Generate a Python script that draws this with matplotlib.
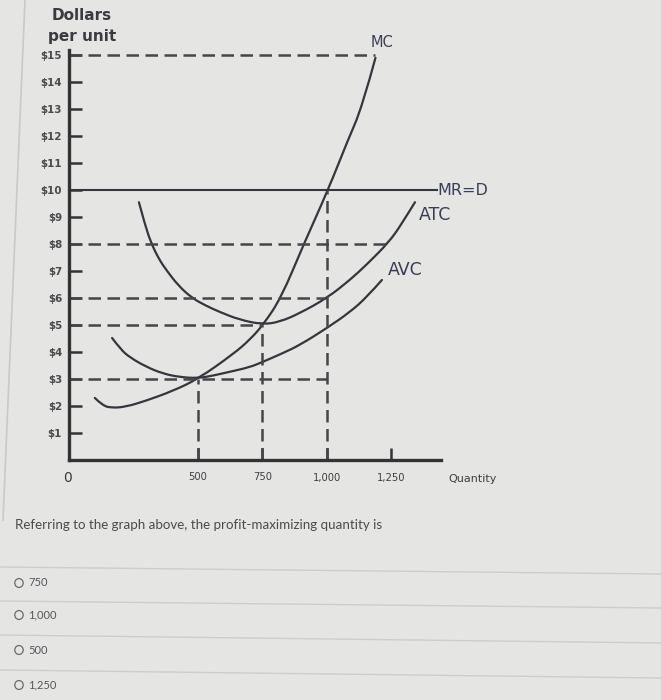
import matplotlib
matplotlib.use("Agg")
import matplotlib.pyplot as plt
from matplotlib.lines import Line2D
from matplotlib.patches import Circle, PathPatch
from matplotlib.path import Path

# ---------------- data ----------------
price_ticks = [1, 2, 3, 4, 5, 6, 7, 8, 9, 10, 11, 12, 13, 14, 15]
price_labels = ["$1", "$2", "$3", "$4", "$5", "$6", "$7", "$8", "$9", "$10",
                "$11", "$12", "$13", "$14", "$15"]
quantity_ticks = [500, 750, 1000, 1250]
quantity_labels = ["500", "750", "1,000", "1,250"]

mr_price = 10

mc_q = [100, 130, 165, 220, 300, 400, 500, 640, 700, 752, 822, 910, 1004, 1081, 1136, 1188]
mc_p = [2.3, 2.02, 1.93, 1.97, 2.2, 2.55, 3.0, 3.95, 4.45, 5.0, 6.0, 8.0, 10.0, 11.85, 13.07, 14.9]

atc_q = [271, 295, 318, 348, 380, 425, 477, 530, 585, 660, 750, 818, 895, 1000, 1089, 1155, 1240, 1290, 1341]
atc_p = [9.55, 8.7, 8.05, 7.45, 7.0, 6.45, 6.0, 5.72, 5.48, 5.2, 5.02, 5.12, 5.44, 6.0, 6.67, 7.25, 8.07, 8.75, 9.55]

avc_q = [167, 200, 236, 300, 364, 430, 500, 560, 624, 701, 750, 829, 895, 1000, 1089, 1155, 1213]
avc_p = [4.52, 4.1, 3.8, 3.45, 3.2, 3.07, 3.03, 3.13, 3.27, 3.44, 3.63, 3.96, 4.26, 4.89, 5.48, 6.04, 6.67]

# dashed guide lines
h_guides_price = [15, 8, 6, 5, 3]
h_guides_q_end = [1188, 1240, 1000, 750, 1000]
v_guides_q = [500, 750, 1000]
v_guides_p_end = [3, 5, 10]

question = "Referring to the graph above, the profit-maximizing quantity is"
options = ["750", "1,000", "500", "1,250"]

# ---------------- figure ----------------
W, H = 661, 700
BG = "#e5e6e3"
INK = "#35363d"
fig = plt.figure(figsize=(W / 100, H / 100), dpi=100, facecolor=BG)


def fx(px):
    return px / W


def fy(py):
    return 1 - py / H


ax = fig.add_axes([fx(69), fy(460), (441 - 69) / W, (460 - 50) / H])
ax.set_facecolor("none")
ax.set_xlim(0, 1442)
ax.set_ylim(0, 15.19)

for s in ["top", "right"]:
    ax.spines[s].set_visible(False)
for s in ["left", "bottom"]:
    ax.spines[s].set_linewidth(2.4)
    ax.spines[s].set_color("#333336")

ax.set_yticks(price_ticks)
ax.set_yticklabels(price_labels, fontsize=7.4, fontweight="bold", color="#4a4a4e")
ax.tick_params(axis="y", direction="in", length=9, width=1.8, color="#333336", pad=5)
ax.set_xticks(quantity_ticks)
ax.set_xticklabels(quantity_labels, fontsize=7.2, color="#3e3e44")
ax.tick_params(axis="x", direction="in", length=9, width=1.8, color="#333336", pad=9)

dash_kw = dict(color="#45464b", lw=1.8, dashes=(5, 2.6), solid_capstyle="butt")
for p, qe in zip(h_guides_price, h_guides_q_end):
    ax.plot([0, qe], [p, p], **dash_kw, clip_on=False)
for q, pe in zip(v_guides_q, v_guides_p_end):
    ax.plot([q, q], [0, pe], **dash_kw, clip_on=False)

# MR = D
ax.plot([0, 1426], [mr_price, mr_price], color=INK, lw=1.5, clip_on=False)


def smooth_curve(qs, ps):
    """Quadratic-Bezier path using the read points as control points."""
    pts = list(zip(qs, ps))
    verts = [pts[0]]
    codes = [Path.MOVETO]
    for i in range(1, len(pts) - 1):
        nxt = pts[i + 1] if i + 1 == len(pts) - 1 else (
            (pts[i][0] + pts[i + 1][0]) / 2, (pts[i][1] + pts[i + 1][1]) / 2)
        verts += [pts[i], nxt]
        codes += [Path.CURVE3, Path.CURVE3]
    path = Path(verts, codes)
    patch = PathPatch(path, fill=False, ec=INK, lw=1.6, capstyle="round",
                      joinstyle="round", clip_on=False)
    ax.add_patch(patch)


smooth_curve(mc_q, mc_p)
smooth_curve(atc_q, atc_p)
smooth_curve(avc_q, avc_p)

lab_col = "#3a3e55"
ax.text(1213, 15.45, "MC", fontsize=10.5, color=lab_col, ha="center", va="center", clip_on=False)
ax.text(1428, mr_price, "MR=D", fontsize=11.5, color=lab_col, ha="left", va="center", clip_on=False)
ax.text(1357, 9.07, "ATC", fontsize=12.5, color=lab_col, ha="left", va="center", clip_on=False)
ax.text(1236, 7.04, "AVC", fontsize=12.5, color=lab_col, ha="left", va="center", clip_on=False)

# axis titles
fig.text(fx(52), fy(15), "Dollars", fontsize=11, fontweight="bold", color="#3a3a40", ha="left", va="center")
fig.text(fx(48), fy(37), "per unit", fontsize=11, fontweight="bold", color="#3a3a40", ha="left", va="center")
fig.text(fx(67), fy(478), "0", fontsize=10, color="#3a3a40", ha="center", va="center")
fig.text(fx(448), fy(479), "Quantity", fontsize=8, color="#3e3e44", ha="left", va="center")

# faint edge of the panel
fig.add_artist(Line2D([fx(25), fx(3)], [fy(0), fy(520)], color="#c9cac7", lw=1.2))

# question and options
fig.text(fx(15), fy(525), question, fontsize=9.6, family=["Lato", "DejaVu Sans"],
         color="#4a4a4f", ha="left", va="center")

sep_left = [567, 601, 635, 670]
sep_right = [574, 608, 643, 678]
for yl, yr in zip(sep_left, sep_right):
    fig.add_artist(Line2D([0, 1], [fy(yl), fy(yr)], color="#cdcecb", lw=1.0))

opt_y = [583, 615, 650, 685]
for y, t in zip(opt_y, options):
    fig.add_artist(Circle((fx(19), fy(y)), 4.2 / W, transform=fig.transFigure,
                          fill=False, ec="#6a6a6e", lw=0.9))
    fig.text(fx(28), fy(y), t, fontsize=8, family=["Lato", "DejaVu Sans"],
             color="#55555a", ha="left", va="center")

fig.savefig("out.png", dpi=100, facecolor=BG)
